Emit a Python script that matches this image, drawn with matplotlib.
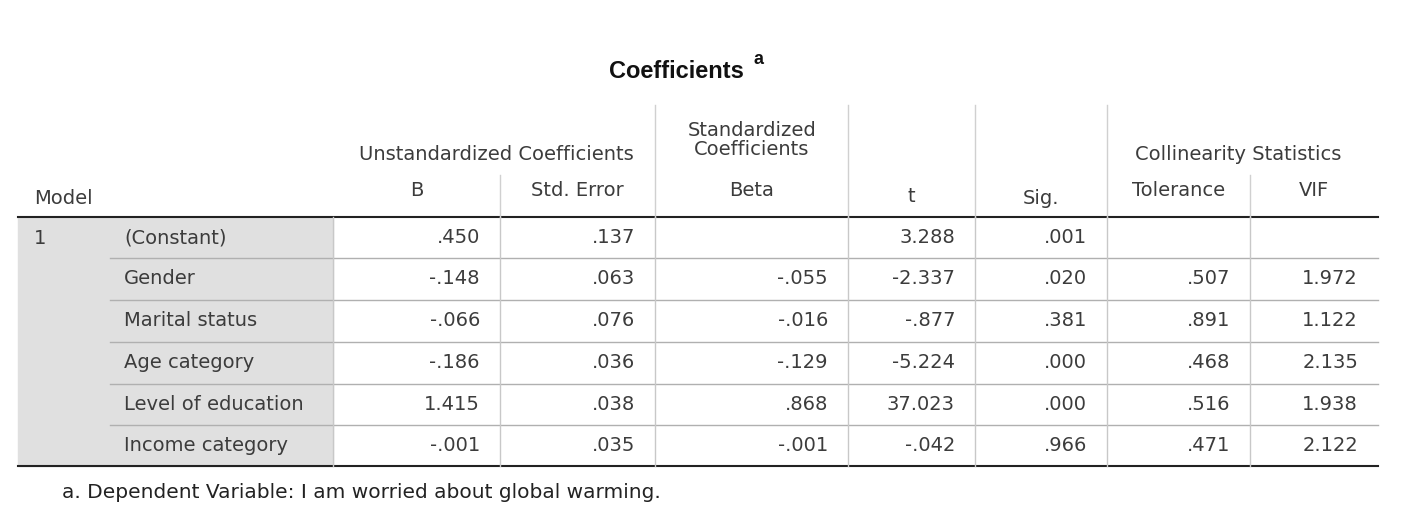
import matplotlib
matplotlib.use("Agg")
import matplotlib.pyplot as plt

labels = ["(Constant)", "Gender", "Marital status", "Age category", "Level of education", "Income category"]
B = [".450", "-.148", "-.066", "-.186", "1.415", "-.001"]
SE = [".137", ".063", ".076", ".036", ".038", ".035"]
Beta = ["", "-.055", "-.016", "-.129", ".868", "-.001"]
T = ["3.288", "-2.337", "-.877", "-5.224", "37.023", "-.042"]
Sig = [".001", ".020", ".381", ".000", ".000", ".966"]
Tol = ["", ".507", ".891", ".468", ".516", ".471"]
VIF = ["", "1.972", "1.122", "2.135", "1.938", "2.122"]

fig = plt.figure(figsize=(14.02, 5.22), dpi=100)
ax = fig.add_axes([0, 0, 1, 1])
ax.set_xlim(0, 1402); ax.set_ylim(522, 0); ax.axis("off")
plt.rcParams['font.family'] = ['DejaVu Sans']
tc = "#3c3c3c"; fs = 14
edges = [333, 500, 655, 848, 975, 1107, 1250, 1378]
left = 18
rows_y = [217, 258, 300, 342, 384, 425, 466]
ax.add_patch(plt.Rectangle((left, rows_y[0]), 333 - left, rows_y[-1] - rows_y[0], color="#e0e0e0", zorder=0))
for i, y in enumerate(rows_y[1:-1]):
    ax.plot([110, 1378], [y, y], color="#b0b0b0", lw=1)
ax.plot([left, 1378], [rows_y[0], rows_y[0]], color="#222222", lw=1.5)
ax.plot([left, 1378], [rows_y[-1], rows_y[-1]], color="#222222", lw=1.5)
for x in edges[:-1]:
    ax.plot([x, x], [rows_y[0], rows_y[-1]], color="#c8c8c8", lw=1)
for x in [655, 848, 975, 1107]:
    ax.plot([x, x], [105, 217], color="#d0d0d0", lw=1)
for x in [500, 1250]:
    ax.plot([x, x], [175, 217], color="#d0d0d0", lw=1)

ax.text(676, 72, "Coefficients", ha="center", va="center", fontsize=17, fontweight="bold",
        color="#111111", family="Liberation Sans")
ax.text(754, 60, "a", ha="left", va="center", fontsize=13, fontweight="bold", color="#111111",
        family="Liberation Sans")
ax.text(496, 155, "Unstandardized Coefficients", ha="center", va="center", fontsize=fs, color=tc)
ax.text(752, 140, "Standardized\nCoefficients", ha="center", va="center", fontsize=fs, color=tc, linespacing=1.05)
ax.text(1238, 155, "Collinearity Statistics", ha="center", va="center", fontsize=fs, color=tc)
ax.text(34, 199, "Model", ha="left", va="center", fontsize=fs, color=tc)
heads = ["B", "Std. Error", "Beta", "t", "Sig.", "Tolerance", "VIF"]
hy = [191, 191, 191, 196, 199, 191, 191]
for i, h in enumerate(heads):
    ax.text((edges[i] + edges[i + 1]) / 2, hy[i], h, ha="center", va="center", fontsize=fs, color=tc)
cols = [B, SE, Beta, T, Sig, Tol, VIF]
for r in range(6):
    yc = (rows_y[r] + rows_y[r + 1]) / 2
    ax.text(124, yc, labels[r], ha="left", va="center", fontsize=fs, color=tc)
    for c, col in enumerate(cols):
        ax.text(edges[c + 1] - 20, yc, col[r], ha="right", va="center", fontsize=fs, color=tc)
ax.text(34, 238, "1", ha="left", va="center", fontsize=fs, color=tc)
ax.text(62, 492, "a. Dependent Variable: I am worried about global warming.", ha="left", va="center",
        fontsize=14.5, color="#222222")
fig.savefig("out.png", dpi=100)
